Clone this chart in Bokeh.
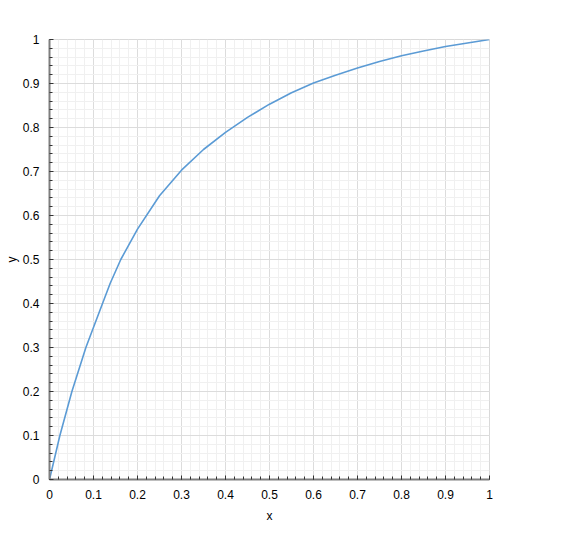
from bokeh.plotting import figure
from bokeh.models import FixedTicker, Range1d
from bokeh.embed import file_html
from bokeh.resources import INLINE

x_vals = [0, 0.0236, 0.0509, 0.0827, 0.1205, 0.138, 0.162, 0.2, 0.25, 0.3, 0.35,
          0.4, 0.45, 0.5, 0.55, 0.6, 0.65, 0.7, 0.75, 0.8, 0.85, 0.9, 0.95, 1.0]
y_vals = [0, 0.1, 0.2, 0.3, 0.4, 0.446, 0.5, 0.569, 0.645, 0.703, 0.750,
          0.789, 0.823, 0.853, 0.879, 0.901, 0.919, 0.935, 0.950, 0.963, 0.974,
          0.984, 0.992, 1.0]

major_ticks = [0, 0.1, 0.2, 0.3, 0.4, 0.5, 0.6, 0.7, 0.8, 0.9, 1.0]
tick_labels = ["0", "0.1", "0.2", "0.3", "0.4", "0.5", "0.6", "0.7", "0.8", "0.9", "1"]
minor_ticks = [i / 50 for i in range(51)]
x_title = "x"
y_title = "y"

FONT = "Liberation Sans"

p = figure(width=552, height=539, output_backend="svg", toolbar_location=None,
           x_range=Range1d(0, 1), y_range=Range1d(0, 1),
           min_border_left=49, min_border_top=39, min_border_right=63, min_border_bottom=60,
           frame_width=440, frame_height=440)

p.line(x_vals, y_vals, line_color="#5b9bd5", line_width=1.6, line_join="round")

p.outline_line_color = "#d9d9d9"
p.outline_line_width = 1

for ax, name in ((p.xaxis[0], x_title), (p.yaxis[0], y_title)):
    ax.ticker = FixedTicker(ticks=major_ticks, minor_ticks=minor_ticks)
    ax.major_label_overrides = {t: l for t, l in zip(major_ticks, tick_labels)}
    ax.axis_label = name
    ax.axis_label_text_font = FONT
    ax.axis_label_text_font_size = "12px"
    ax.axis_label_text_font_style = "normal"
    ax.axis_label_text_color = "#000000"
    ax.major_label_text_font = FONT
    ax.major_label_text_font_size = "12px"
    ax.major_label_text_color = "#000000"
    ax.axis_line_color = "#7f7f7f"
    ax.axis_line_width = 2
    ax.major_tick_in = 4
    ax.major_tick_out = 0
    ax.minor_tick_in = 3
    ax.minor_tick_out = 0
    ax.major_tick_line_color = "#333333"
    ax.minor_tick_line_color = "#333333"
    ax.major_tick_line_width = 1
    ax.minor_tick_line_width = 1

p.xaxis[0].major_label_standoff = 10
p.xaxis[0].axis_label_standoff = 7
p.yaxis[0].major_label_standoff = 10
p.yaxis[0].axis_label_standoff = 1

for g in (p.xgrid[0], p.ygrid[0]):
    g.ticker = FixedTicker(ticks=major_ticks, minor_ticks=minor_ticks)
    g.grid_line_color = "#dcdcdc"
    g.grid_line_width = 1
    g.minor_grid_line_color = "#f0f0f0"
    g.minor_grid_line_width = 1

open("out.html", "w").write(file_html(p, INLINE))
